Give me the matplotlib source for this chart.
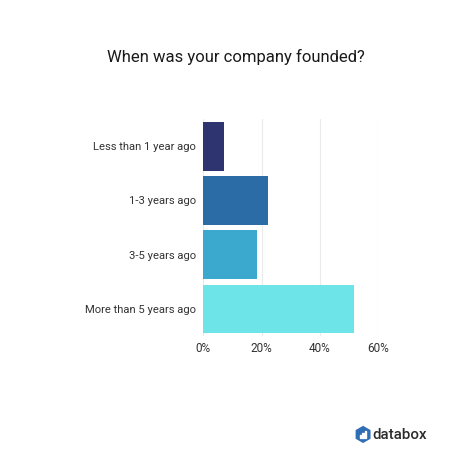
import matplotlib.pyplot as plt
from matplotlib.patches import RegularPolygon, Rectangle

plt.rcParams["font.family"] = ["Roboto", "DejaVu Sans"]

categories = ["Less than 1 year ago", "1-3 years ago", "3-5 years ago", "More than 5 years ago"]
shares = [7.2, 22.3, 18.4, 51.7]
colors = ["#2E346F", "#2C6CA6", "#3BA8CD", "#6CE4E8"]
xticks = [0, 20, 40, 60]
xtick_labels = ["0%", "20%", "40%", "60%"]


def main():
    fig = plt.figure(figsize=(4.74, 4.74), dpi=100)
    ax = fig.add_axes([0.4289, 0.291, 0.3692, 0.458])

    y = list(range(len(categories)))
    ax.barh(y, shares, height=0.9, color=colors, zorder=3)
    ax.set_ylim(len(categories) - 0.5, -0.5)
    ax.set_xlim(0, 60)
    ax.set_yticks(y)
    ax.set_yticklabels(categories, fontsize=8.1, color="#333333")
    ax.set_xticks(xticks)
    ax.set_xticklabels(xtick_labels, fontsize=8.5, color="#333333")
    ax.tick_params(axis="y", length=0, pad=5)
    ax.tick_params(axis="x", length=0, pad=4)
    ax.grid(axis="x", color="#ebebeb", linewidth=0.8, zorder=0)
    for s in ax.spines.values():
        s.set_visible(False)

    fig.text(0.497, 0.879, "When was your company founded?", ha="center", va="center",
             fontsize=12, color="#1a1a1a")

    # databox logo
    hx, hy = 0.766, 0.0835
    fig.patches.append(RegularPolygon((hx, hy), numVertices=6, radius=0.0165,
                                      orientation=0, color="#2F6DB5",
                                      transform=fig.transFigure, figure=fig))
    for dx, h in [(-0.005, 0.006), (0.0, 0.010), (0.005, 0.014)]:
        fig.patches.append(Rectangle((hx + dx - 0.0013, hy - 0.007), 0.0026, h,
                                     color="white", transform=fig.transFigure, figure=fig))
    fig.text(0.785, 0.083, "databox", ha="left", va="center", fontsize=10.8,
             color="#2b2b2b", fontweight="medium")

    fig.savefig("out.png", dpi=100, facecolor="white")
    plt.close(fig)


if __name__ == "__main__":
    main()
